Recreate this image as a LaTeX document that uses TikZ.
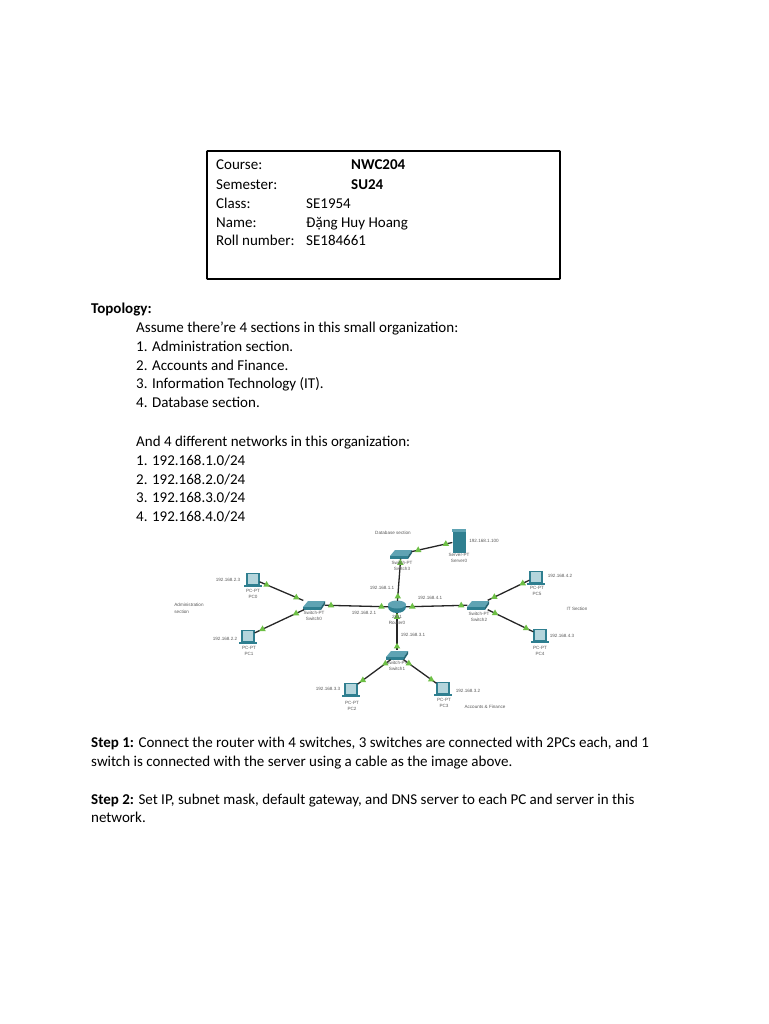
\documentclass[tikz,border=0pt]{standalone}
\usepackage{fontspec}
\setmainfont{Carlito}
\newfontfamily\labelfont{Liberation Sans}
\usepackage{tikz}
\usetikzlibrary{shapes.geometric, arrows.meta, positioning}
\definecolor{screenblue}{HTML}{B4D5DC}
\definecolor{icondark}{HTML}{2F7F90}
\definecolor{icontop}{HTML}{5FA3B3}
\definecolor{lampgreen}{HTML}{6DBF45}
\tikzset{
  infobox/.style   = {rectangle, draw, line width=1.6pt, rounded corners=0.5pt,
                      minimum width=353pt, minimum height=128pt, inner sep=0pt},
  line/.style      = {anchor=base west, inner sep=0pt, font=\fontsize{15}{19}\selectfont},
  boldline/.style  = {line, font=\fontsize{15}{19}\selectfont\bfseries},
  tiny/.style      = {inner sep=0pt, text=black!65, font=\labelfont\fontsize{4.6}{5}\selectfont},
  pcscreen/.style  = {rectangle, draw=icondark, fill=screenblue, line width=1.2pt,
                      minimum width=12pt, minimum height=11pt, inner sep=0pt},
  pckeys/.style    = {rectangle, fill=icondark,
                      minimum width=18pt, minimum height=2.5pt, inner sep=0pt},
  hub/.style       = {rectangle, minimum width=21pt, minimum height=9pt, inner sep=0pt},
  serverbox/.style = {rectangle, fill=icondark, minimum width=13pt, minimum height=23pt, inner sep=0pt},
  routerbox/.style = {ellipse, minimum width=18pt, minimum height=12pt, inner sep=0pt},
  link/.style      = {line width=1.3pt, black!85},
  lamp/.style      = {regular polygon, regular polygon sides=3, fill=lampgreen,
                      minimum size=7.5pt, inner sep=0pt}
}
\newcommand{\pcicon}[3]{
  \node[pcscreen] (#1) at (#2,#3) {};
  \node[pckeys] (#1k) at (#2,#3+7) {};
}
\newcommand{\switchicon}[3]{
  \begin{scope}[shift={(#2,#3)}]
    \fill[icontop] (-11,2) -- (-6,-4) -- (11,-4) -- (7,2) -- cycle;
    \fill[icondark] (-11,2) -- (7,2) -- (7,5) -- (-11,5) -- cycle;
    \fill[icondark!80!black] (7,2) -- (11,-4) -- (11,-1) -- (7,5) -- cycle;
  \end{scope}
  \node[hub] (#1) at (#2,#3) {};
}
\begin{document}
\begin{tikzpicture}[x=1pt, y=-1pt]
  \useasboundingbox (0,0) rectangle (768,1024);
  \node[infobox] (info) at (383.5,215) {};
  \node[line]     (course)  at (216,170) {Course:};
  \node[boldline] (coursev) at (351,170) {NWC204};
  \node[line]     (sem)     at (216,189.5) {Semester:};
  \node[boldline] (semv)    at (351,189.5) {SU24};
  \node[line]     (class)   at (216,208.5) {Class:};
  \node[line]     (classv)  at (306,208.5) {SE1954};
  \node[line]     (name)    at (216,227) {Name:};
  \node[line]     (namev)   at (306,227) {Đặng Huy Hoang};
  \node[line]     (roll)    at (216,245.5) {Roll number:};
  \node[line]     (rollv)   at (306,245.5) {SE184661};

  \node[boldline] (topo) at (91,313) {Topology:};
  \foreach \t [count=\i from 0] in {Assume there’re 4 sections in this small organization:,
      1. Administration section., 2. Accounts and Finance.,
      3. Information Technology (IT)., 4. Database section.}
    \node[line] (sec\i) at (136,332.2+18.9*\i) {\t};
  \foreach \t [count=\i from 0] in {And 4 different networks in this organization:,
      1. 192.168.1.0/24, 2. 192.168.2.0/24, 3. 192.168.3.0/24, 4. 192.168.4.0/24}
    \node[line] (net\i) at (136,446.2+18.9*\i) {\t};

  % devices
  \pcicon{pc0}{253}{579}
  \pcicon{pc1}{248}{636}
  \pcicon{pc2}{351}{689}
  \pcicon{pc3}{443}{688}
  \pcicon{pc4}{540}{635}
  \pcicon{pc5}{536}{577}
  \switchicon{sw0}{314}{605}
  \switchicon{sw1}{397}{655}
  \switchicon{sw2}{478}{605}
  \switchicon{sw3}{401}{554}
  \node[serverbox] (srv) at (459,541) {};
  \fill[icontop] (srv.north west) rectangle ([yshift=-3pt]srv.north east);
  \node[routerbox, fill=icondark] (rtr) at (397,607) {};
  \node[ellipse, fill=icontop, minimum width=18pt, minimum height=8pt, inner sep=0pt] (rtrtop) at (397,604.5) {};

  % links
  \foreach \a/\b in {pc0/sw0, pc1/sw0, pc2/sw1, pc3/sw1, pc4/sw2, pc5/sw2, sw3/srv}
    \draw[link] (\a) -- node[lamp,pos=.16]{} node[lamp,pos=.84]{} (\b);
  \foreach \a/\b in {rtr/sw0, rtr/sw1, rtr/sw2, rtr/sw3}
    \draw[link] (\a) -- node[lamp,pos=.1]{} node[lamp,pos=.9]{} (\b);

  % device labels
  \foreach \x/\y/\l/\m in {253/591/PC-PT/PC0, 249/648/PC-PT/PC1, 352/703/PC-PT/PC2,
      444/700/PC-PT/PC3, 540/648/PC-PT/PC4, 537/588/PC-PT/PC5,
      314/613/Switch-PT/Switch0, 397/663/Switch-PT/Switch1, 479/614/Switch-PT/Switch2,
      402/563/Switch-PT/Switch3, 459/555/Server-PT/Server0, 397/617/2811/Router0}
    \node[tiny, align=center] (lbl\m) at (\x,\y+3) {\l\\[1.5pt]\m};
  \foreach \x/\y/\l in {228/580/192.168.2.3, 225/639/192.168.2.2, 328/689/192.168.3.3,
      468/691/192.168.3.2, 562/636/192.168.4.3, 560/576/192.168.4.2, 484/541/192.168.1.100,
      364/613/192.168.2.1, 382/588/192.168.1.1, 430/598/192.168.4.1, 413/635/192.168.3.1,
      393/533/Database section, 577/609/IT Section, 485/707/Accounts \& Finance}
    \node[tiny] (ip\x) at (\x,\y) {\l};
  \node[tiny, align=left] (admin) at (189,608.5) {Administration\\[1.5pt]section};

  \node[line] (step1) at (91,747) {\textbf{Step 1:} Connect the router with 4 switches, 3 switches are connected with 2PCs each, and 1};
  \node[line] (step1b) at (91,766) {switch is connected with the server using a cable as the image above.};
  \node[line] (step2) at (91,804) {\textbf{Step 2:} Set IP, subnet mask, default gateway, and DNS server to each PC and server in this};
  \node[line] (step2b) at (91,822) {network.};
\end{tikzpicture}
\end{document}
